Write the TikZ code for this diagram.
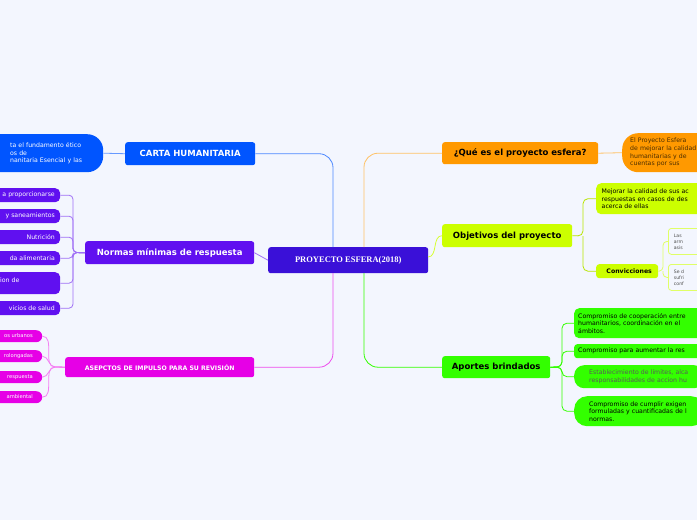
\documentclass[tikz,border=0pt]{standalone}
\usepackage{fontspec}
\setmainfont{DejaVu Sans}
\newfontfamily\serifb{Liberation Serif}
\begin{document}
\begin{tikzpicture}[x=1pt,y=-1pt,
 mainb/.style={rounded corners=2.5pt,inner sep=0pt,font=\bfseries\fontsize{8.5}{10}\selectfont,anchor=north west},
 leaf/.style={rounded corners=5pt,inner sep=0pt,anchor=north west,font=\fontsize{6.2}{7.5}\selectfont},
 pill/.style={rounded corners=6pt,inner sep=0pt,anchor=north west,font=\fontsize{6.2}{7.5}\selectfont,text=white}]
\definecolor{bg}{HTML}{F3F6FE}
\definecolor{cblue}{HTML}{0055FF}
\definecolor{cpur}{HTML}{6010F0}
\definecolor{cmag}{HTML}{E600E6}
\definecolor{cora}{HTML}{FF9900}
\definecolor{clime}{HTML}{CCFF00}
\definecolor{cgrn}{HTML}{33FF00}
\definecolor{cind}{HTML}{3A10D8}
\fill[bg] (0,0) rectangle (697,520);
\useasboundingbox (0,0) rectangle (697,520);
\clip (0,0) rectangle (697,520);
% center
\node[mainb,fill=cind,minimum width=160pt,minimum height=26pt,text=white,font=\serifb\bfseries\fontsize{8.5}{10}\selectfont] (c) at (268,247) {PROYECTO ESFERA(2018)};
% left mains
\node[mainb,fill=cblue,text=white,minimum width=130pt,minimum height=23pt] (carta) at (125,142) {CARTA HUMANITARIA};
\node[mainb,fill=cpur,text=white,minimum width=169pt,minimum height=23pt] (norm) at (85,241) {Normas mínimas de respuesta};
\node[mainb,fill=cmag,text=white,minimum width=189pt,minimum height=20pt,font=\bfseries\fontsize{6.2}{8}\selectfont] (asp) at (65,357) {ASEPCTOS DE IMPULSO PARA SU REVISIÓN};
% right mains
\node[mainb,fill=cora,minimum width=156pt,minimum height=22pt] (que) at (442,142) {¿Qué es el proyecto esfera?};
\node[mainb,fill=clime,minimum width=130pt,minimum height=23pt] (obj) at (442,224) {Objetivos del proyecto};
\node[mainb,fill=cgrn,minimum width=108pt,minimum height=22pt] (apo) at (442,356) {Aportes brindados};
% center connectors
\draw[cblue!70,thick,rounded corners=14pt] (333,247) |- (carta.east);
\draw[cpur!60,thick] (c.west) -- (norm.east);
\draw[cmag!70,thick,rounded corners=14pt] (333,273) |- (asp.east);
\draw[cora!60,thick,rounded corners=14pt] (364,247) |- (que.west);
\draw[clime!80,thick] (428,257) to[out=0,in=180] (obj.west);
\draw[cgrn,thick,rounded corners=14pt] (364,273) |- (apo.west);
% carta leaf
\node[leaf,fill=cblue,text=white,minimum width=180pt,minimum height=38pt,rounded corners=16pt,text width=150pt,align=left] (cl) at (-77,134) {\hspace*{72pt}ta el fundamento ético\\\hspace*{72pt}os de\\\hspace*{72pt}nanitaria Esencial y las};
\draw[cblue!60,thick] (carta.west) -- (cl.east);
% normas leaves
\foreach \n/\y/\h/\t in {n1/188/14/a proporcionarse,n2/209/14/ y saneamientos,n3/230/14/Nutrición,n4/251/14/da alimentaria,n5/272/22/,n6/301/14/vicios de salud}{
 \node[pill,fill=cpur,minimum width=120pt,minimum height=\h pt,rounded corners=5pt] (\n) at (-60,\y) {};
 \node[anchor=east,font=\fontsize{6.2}{7.5}\selectfont,text=white,inner sep=0pt] at (55,\y+\h/2) {\t};
 \draw[cpur!60,thick,rounded corners=4pt] (norm.west) -- (73,252.5) |- (\n.east);
}
\node[anchor=west,font=\fontsize{6.2}{7.5}\selectfont,text=white,inner sep=0pt] at (0,280) {ion de};
% aspectos leaves
\foreach \n/\y/\t in {a1/330/os urbanos,a2/350/rolongadas,a3/371/ respuesta,a4/391/ ambiental}{
 \node[pill,fill=cmag,minimum width=100pt,minimum height=12pt] (\n) at (-58,\y) {};
 \node[anchor=east,font=\fontsize{5.2}{6}\selectfont,text=white,inner sep=0pt] at (33,\y+6) {\t};
 \draw[cmag!50,thick] (asp.west) -- (55,367) to[out=180,in=0] (\n.east);
}
% que leaf
\node[leaf,fill=cora,minimum width=130pt,minimum height=39pt,rounded corners=16pt,text width=120pt,align=left,text=black!70!cora,font=\fontsize{6.2}{7.7}\selectfont] (ql) at (622,133) {\hspace*{3pt}El Proyecto Esfera\\\hspace*{3pt}de mejorar la calidad\\\hspace*{3pt}humanitarias y de\\\hspace*{3pt}cuentas por sus};
\draw[cora!60,thick] (que.east) -- (ql.west);
% objetivos leaves
\node[leaf,fill=clime,minimum width=130pt,minimum height=31pt,text width=125pt,align=left] (o1) at (596,183) {\hspace*{3pt}Mejorar la calidad de sus ac\\\hspace*{3pt}respuestas en casos de des\\\hspace*{3pt}acerca de ellas};
\node[leaf,fill=clime,minimum width=62pt,minimum height=14pt,font=\bfseries\fontsize{6.2}{7.5}\selectfont,rounded corners=3pt] (conv) at (596,264) {\hspace*{4pt}Convicciones};
\draw[clime!90!black,thick,rounded corners=5pt] (obj.east) -- (583,236) |- (o1.west);
\draw[clime!90!black,thick,rounded corners=5pt] (583,236) |- (conv.west);
\node[leaf,draw=clime!60,thick,minimum width=40pt,minimum height=26pt,text width=35pt,align=left,font=\fontsize{4.6}{6}\selectfont,text=black!70,rounded corners=3pt] (s1) at (668,228) {\hspace*{3pt}Las\\\hspace*{3pt}arm\\\hspace*{3pt}asis};
\node[leaf,draw=clime!60,thick,minimum width=40pt,minimum height=26pt,text width=35pt,align=left,font=\fontsize{4.6}{6}\selectfont,text=black!70,rounded corners=3pt] (s2) at (668,264) {\hspace*{3pt}Se d\\\hspace*{3pt}sufri\\\hspace*{3pt}conf};
\draw[clime!60,thick,rounded corners=4pt] (conv.east) -- (663,271) |- (s1.west);
\draw[clime!60,thick,rounded corners=4pt] (663,271) |- (s2.west);
% aportes leaves
\node[leaf,fill=cgrn,minimum width=130pt,minimum height=30pt,text width=128pt,align=left] (p1) at (574,308) {\hspace*{3pt}Compromiso de cooperación entre\\\hspace*{3pt}humanitarios, coordinación en el\\\hspace*{3pt}ámbitos.};
\node[leaf,fill=cgrn,minimum width=130pt,minimum height=14pt,text width=128pt,align=left,rounded corners=3pt] (p2) at (574,344) {\hspace*{3pt}Compromiso para aumentar la res};
\node[leaf,fill=cgrn,minimum width=130pt,minimum height=23pt,text width=128pt,align=left,rounded corners=10pt,text=black!65] (p3) at (574,365) {\hspace*{14pt}Establecimiento de límites, alca\\\hspace*{14pt}responsabilidades de accion hu};
\node[leaf,fill=cgrn,minimum width=130pt,minimum height=30pt,text width=128pt,align=left,rounded corners=13pt] (p4) at (574,396) {\hspace*{14pt}Compromiso de cumplir exigen\\\hspace*{14pt}formuladas y cuantificadas de l\\\hspace*{14pt}normas.};
\foreach \p in {p1,p2,p3,p4}{\draw[cgrn,thick,rounded corners=5pt] (apo.east) -- (562,367) |- (\p.west);}
\end{tikzpicture}
\end{document}
